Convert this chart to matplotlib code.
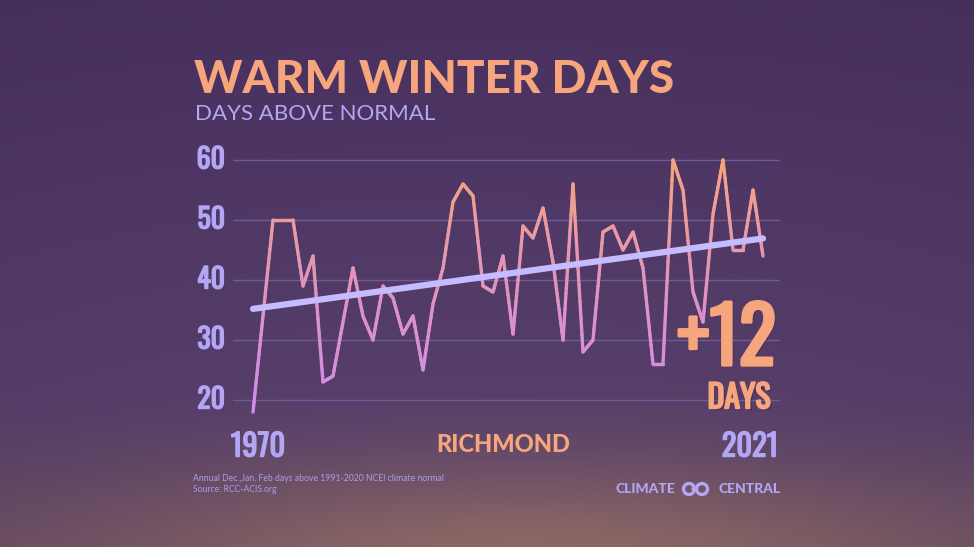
import matplotlib
matplotlib.use("Agg")
import matplotlib.pyplot as plt
import matplotlib.patheffects as pe
import numpy as np
from matplotlib.collections import LineCollection
from matplotlib.colors import LinearSegmentedColormap, to_rgb
from matplotlib.patches import Ellipse

# данные: дни выше нормы зимой, Ричмонд
years = list(range(1970, 2022))
days = [18, 34, 50, 50, 50, 39, 44, 23, 24, 33,
        42, 34, 30, 39, 37, 31, 34, 25, 36, 42,
        53, 56, 54, 39, 38, 44, 31, 49, 47, 52,
        43, 30, 56, 28, 30, 48, 49, 45, 48, 42,
        26, 26, 60, 55, 38, 33, 51, 60, 45, 45,
        55, 44]
y_ticks = [20, 30, 40, 50, 60]

title = "WARM WINTER DAYS"
subtitle = "DAYS ABOVE NORMAL"
city = "RICHMOND"
change_label = "+12"
footnote = "Annual Dec.,Jan, Feb days above 1991-2020 NCEI climate normal\nSource: RCC-ACIS.org"

orange = "#f6a57c"
lavender = "#b3a6f5"
narrow = ["Oswald", "Roboto Condensed", "DejaVu Sans"]


# утолщение узкого шрифта обводкой того же цвета
def bold_fx(color, w=1.0):
    return [pe.Stroke(linewidth=w, foreground=color), pe.Normal()]


# мягкая тень под крупной надписью
def shadow_fx(color, w):
    return [pe.withSimplePatchShadow(offset=(1.5, -1.5), shadow_rgbFace="#2e1f40", alpha=0.35),
            pe.Stroke(linewidth=w, foreground=color), pe.Normal()]


fig = plt.figure(figsize=(9.74, 5.47), dpi=100)

# фон: фиолетовый градиент с тёплым свечением снизу
bg = fig.add_axes([0, 0, 1, 1])
bg.axis("off")
h, w = 274, 487
yy, xx = np.mgrid[0:1:h * 1j, 0:1:w * 1j]
top = np.array(to_rgb("#4a3262"))
mid = np.array(to_rgb("#573f6b"))
bot = np.array(to_rgb("#6a4d68"))
t = yy[..., None]
img = np.where(t < 0.75, top + (mid - top) * (t / 0.75), mid + (bot - mid) * ((t - 0.75) / 0.25))
glow = np.exp(-(((xx - 0.55) / 0.45) ** 2 + ((yy - 1.05) / 0.18) ** 2))[..., None]
img = img + glow * (np.array(to_rgb("#9c7468")) - img) * 0.85
vign = np.exp(-(((xx - 0.5) / 0.9) ** 2 + ((yy - 0.5) / 0.9) ** 2))[..., None]
img = img * (0.85 + 0.15 * vign)
bg.imshow(np.clip(img, 0, 1), extent=[0, 1, 0, 1], aspect="auto", origin="upper")

ax = fig.add_axes([233 / 974, 1 - 424 / 547, 547 / 974, 276 / 547])
ax.set_xlim(1968, 2022.7)
ax.set_ylim(16, 62)
ax.patch.set_alpha(0)
for s in ax.spines.values():
    s.set_visible(False)
ax.set_xticks([])
ax.set_yticks([])
for v in y_ticks:
    ax.axhline(v, color="#6e5a94", lw=1, zorder=1)
    ax.text(1967.2, v, str(v), ha="right", va="center", color=lavender,
            fontsize=20, fontweight="bold", family=narrow, path_effects=bold_fx(lavender))

# линия данных с вертикальным градиентом
cmap = LinearSegmentedColormap.from_list("warm", ["#d08cf0", "#e093bf", "#f6a37c"])
xs, ys = [], []
for i in range(len(years) - 1):
    for k in range(10):
        f = k / 10
        xs.append(years[i] + f * (years[i + 1] - years[i]))
        ys.append(days[i] + f * (days[i + 1] - days[i]))
xs.append(years[-1])
ys.append(days[-1])
pts = np.array([xs, ys]).T.reshape(-1, 1, 2)
segs = np.concatenate([pts[:-1], pts[1:]], axis=1)
lc = LineCollection(segs, cmap=cmap, norm=plt.Normalize(18, 60), linewidth=2.4,
                    capstyle="round", joinstyle="round", zorder=3)
lc.set_array((np.array(ys[:-1]) + np.array(ys[1:])) / 2)
ax.add_collection(lc)

# линия тренда
coef = np.polyfit(years, days, 1)
trend = np.polyval(coef, [years[0], years[-1]])
ax.plot([years[0], years[-1]], trend, color="#c4bcff", lw=4.5,
        solid_capstyle="round", zorder=4)

ax.text(2022.3, 29.9, change_label, ha="right", va="center", color=orange,
        fontsize=56, fontweight="bold", family=narrow, zorder=5,
        path_effects=shadow_fx(orange, 2.3))
ax.text(2021.75, 20.3, "DAYS", ha="right", va="center", color=orange,
        fontsize=23, fontweight="bold", family=narrow, zorder=5,
        path_effects=shadow_fx(orange, 1.4))

fig.text(258 / 974, 1 - 447 / 547, "1970", ha="center", va="center", color=lavender,
         fontsize=22, fontweight="bold", family=narrow, path_effects=bold_fx(lavender))
fig.text(750 / 974, 1 - 447 / 547, "2021", ha="center", va="center", color=lavender,
         fontsize=22, fontweight="bold", family=narrow, path_effects=bold_fx(lavender))
fig.text(503 / 974, 1 - 444 / 547, city, ha="center", va="center", color=orange,
         fontsize=17, fontweight="black", family="Lato")

fig.text(194 / 974, 1 - 80 / 547, title, ha="left", va="center", color=orange,
         fontsize=33, fontweight="black", family="Lato")
fig.text(195 / 974, 1 - 114 / 547, subtitle, ha="left", va="center", color=lavender,
         fontsize=16, family="Lato")

fig.text(193 / 974, 1 - 484 / 547, footnote, ha="left", va="center", color="#a99ee6",
         fontsize=6.2, family="Lato", linespacing=1.3)

# логотип
fig.text(615 / 974, 1 - 489 / 547, "CLIMATE", ha="left", va="center", color=lavender,
         fontsize=10, fontweight="black", family="Lato")
fig.text(781 / 974, 1 - 489 / 547, "CENTRAL", ha="right", va="center", color=lavender,
         fontsize=10, fontweight="black", family="Lato")
for cx in (689, 702):
    fig.patches.append(Ellipse((cx / 974, 1 - 489 / 547), 11 / 974, 11 / 547,
                               fill=False, ec=lavender, lw=2.4, transform=fig.transFigure))
fig.patches.append(Ellipse((694 / 974, 1 - 489 / 547), 5 / 974, 5 / 547,
                           fc=lavender, ec="none", transform=fig.transFigure))

fig.savefig("out.png", dpi=100)
